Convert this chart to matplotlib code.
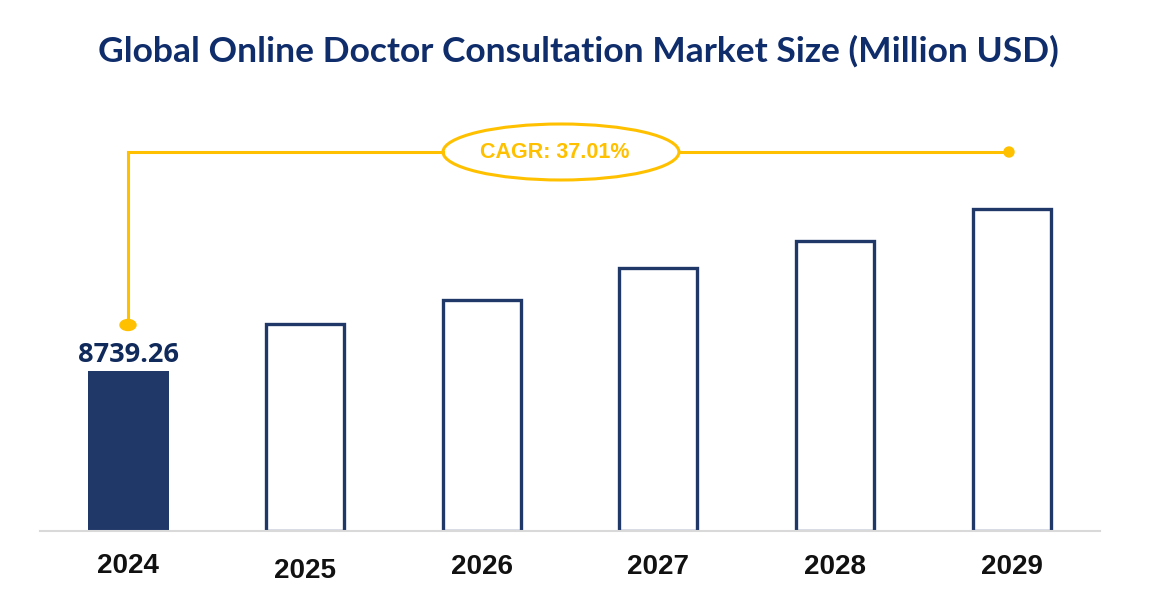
import matplotlib
matplotlib.use("Agg")
import matplotlib.pyplot as plt
from matplotlib.patches import Ellipse

years = ["2024", "2025", "2026", "2027", "2028", "2029"]
values = [8739.26, 11306, 12617, 14365, 15840, 17588]
value_label = "8739.26"
cagr_text = "CAGR: 37.01%"
title = "Global Online Doctor Consultation Market Size (Million USD)"

navy = "#1F3868"
gold = "#FFC000"

fig = plt.figure(figsize=(11.52, 6.14), dpi=100)
ax = fig.add_axes([40/1152, (614-531)/614, 1060/1152, 431/614])

for i, v in enumerate(values):
    if i == 0:
        ax.bar(i, v, width=0.46, color=navy, edgecolor=navy, linewidth=0)
    else:
        ax.bar(i, v, width=0.44, facecolor="white", edgecolor=navy, linewidth=2.4)

ax.set_xlim(-0.5, 5.5)
ax.set_ylim(0, values[0] * 431 / 160)
for s in ["top", "right", "left"]:
    ax.spines[s].set_visible(False)
ax.spines["bottom"].set_color("#D9D9D9")
ax.spines["bottom"].set_linewidth(1.5)
ax.set_yticks([])
ax.set_xticks([])

yoffs = [-0.082, -0.092, -0.084, -0.084, -0.084, -0.084]
for i, yr in enumerate(years):
    ax.text(i, yoffs[i], yr, transform=ax.get_xaxis_transform(), ha="center", va="center",
            fontsize=20, fontweight="bold", family=["Liberation Sans", "DejaVu Sans"], color="#111111")

ax.text(0, values[0] * 1.058, value_label, ha="center", va="baseline", fontsize=19.5,
        fontweight="bold", family=["Open Sans", "DejaVu Sans"], color="#102A5C")

# CAGR decoration (axes fraction coordinates)
ly = (531 - 152) / 431
dy = (531 - 325) / 431
x0 = (128 - 40) / 1060
x1 = (1009 - 40) / 1060
ex = (561 - 40) / 1060
ew = 236 / 1060
eh = 56 / 431
tr = ax.transAxes
ax.plot([x0, x0], [dy, ly], color=gold, lw=2.2, transform=tr, clip_on=False)
ax.plot([x0, ex - ew / 2], [ly, ly], color=gold, lw=2.2, transform=tr, clip_on=False)
ax.plot([ex + ew / 2, x1], [ly, ly], color=gold, lw=2.2, transform=tr, clip_on=False)
ax.add_patch(Ellipse((x0, dy), 16 / 1060, 11 / 431, transform=tr, color=gold, clip_on=False))
ax.add_patch(Ellipse((x1, ly), 10 / 1060, 10 / 431, transform=tr, color=gold, clip_on=False))
ax.add_patch(Ellipse((ex, ly), ew, eh, transform=tr, facecolor="white", edgecolor=gold, lw=2.2, clip_on=False))
ax.text(ex - 0.006, ly, cagr_text, transform=tr, ha="center", va="center", fontsize=15.5,
        fontweight="bold", family=["Liberation Sans", "DejaVu Sans"], color=gold)

fig.text(578 / 1152, 1 - 51 / 614, title, ha="center", va="center", fontsize=25.5,
         fontweight="bold", family=["Lato", "DejaVu Sans"], color="#0F2C6B")

fig.savefig("out.png", dpi=100)
